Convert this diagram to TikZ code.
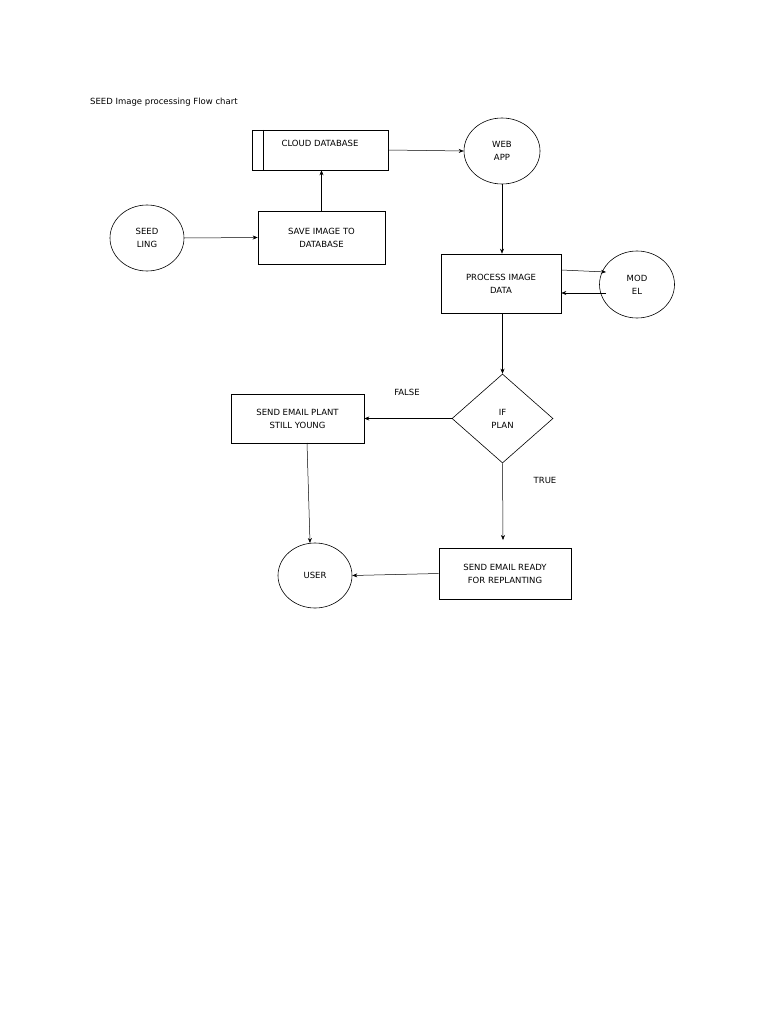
\documentclass[tikz,border=0pt]{standalone}
\usepackage{fontspec}
\setmainfont{DejaVu Sans}
\usetikzlibrary{shapes.geometric,arrows.meta}
\begin{document}
\begin{tikzpicture}[x=1pt,y=-1pt,
  every node/.style={font=\fontsize{8.5}{13}\selectfont, align=center, inner sep=0pt},
  box/.style={draw, line width=0.6pt, rectangle},
  circ/.style={draw, line width=0.6pt, ellipse},
  arr/.style={-{Stealth[length=5pt,width=4pt]}, line width=0.5pt}]
\useasboundingbox (0,0) rectangle (768,1024);
\node[anchor=west] (title) at (90,102) {SEED Image processing Flow chart};
\node[box, minimum width=136pt, minimum height=40pt] (cloud) at (320,150) {};
\node (cloudt) at (320,143) {CLOUD DATABASE};
\draw[line width=0.6pt] (263,130) -- (263,170);
\node[circ, minimum width=76pt, minimum height=66pt] (web) at (502,151) {WEB\\APP};
\node[circ, minimum width=74pt, minimum height=66pt] (seed) at (147,238) {SEED\\LING};
\node[box, minimum width=127pt, minimum height=53pt] (save) at (321.5,237.5) {SAVE IMAGE TO\\DATABASE};
\node[box, minimum width=120pt, minimum height=59pt] (proc) at (501,283.5) {PROCESS IMAGE\\DATA};
\node[circ, minimum width=75pt, minimum height=67pt] (model) at (637,284.5) {MOD\\EL};
\node[diamond, draw, line width=0.6pt, minimum width=101pt, minimum height=89pt] (ifp) at (502.5,418.5) {IF\\PLAN};
\node[box, minimum width=133pt, minimum height=49pt] (young) at (297.5,418.5) {SEND EMAIL PLANT\\STILL YOUNG};
\node[circ, minimum width=74pt, minimum height=65pt] (user) at (315,575.5) {USER};
\node[box, minimum width=132pt, minimum height=51pt] (ready) at (505,573.5) {SEND EMAIL READY\\FOR REPLANTING};
\node (false) at (407,392) {FALSE};
\node (true) at (545,480) {TRUE};
\draw[arr] (seed.east) -- (save.west);
\draw[arr] (save.north) -- (cloud.south -| save.north);
\draw[arr] (cloud.east) -- (web.west);
\draw[arr] (web.south) -- (proc.north -| web.south);
\draw[arr] (proc.east |- 0,270) -- (606,272);
\draw[arr] (606,293) -- (proc.east |- 0,293);
\draw[arr] (ifp.north |- proc.south) -- (ifp.north);
\draw[arr] (ifp.west) -- (young.east);
\draw[arr] (307,443) -- (310,543);
\draw[arr] (ifp.south) -- (503,540);
\draw[arr] (ready.west) -- (user.east);
\end{tikzpicture}
\end{document}
